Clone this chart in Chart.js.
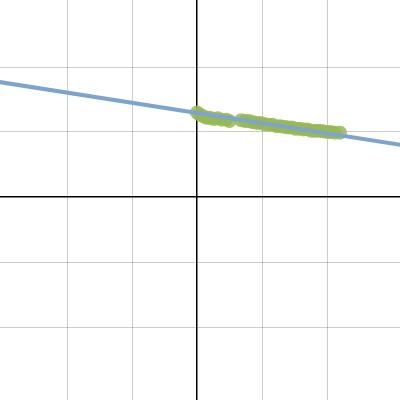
<!DOCTYPE html>
<html>
<head>
<script src="https://cdn.jsdelivr.net/npm/chart.js@4"></script>
<style>
  body { margin: 0; background: #fff; }
  #wrap { width: 400px; height: 400px; }
</style>
</head>
<body>
<div id="wrap"><canvas id="chart"></canvas></div>
<script>
// Sample points
const pointX = [0, 0.04, 0.1, 0.15, 0.2, 0.26, 0.32, 0.38, 0.45, 0.5,
                0.68, 0.74, 0.8, 0.86, 0.92, 0.98, 1.04, 1.1, 1.16, 1.22,
                1.28, 1.34, 1.4, 1.46, 1.52, 1.58, 1.64, 1.7, 1.76, 1.82,
                1.88, 1.94, 2.0, 2.06, 2.12, 2.2];
const pointY = [1.3, 1.27, 1.24, 1.22, 1.22, 1.2, 1.21, 1.19, 1.19, 1.17,
                1.18, 1.17, 1.17, 1.15, 1.14, 1.14, 1.12, 1.11, 1.11, 1.09,
                1.09, 1.08, 1.07, 1.07, 1.05, 1.05, 1.04, 1.04, 1.02, 1.02,
                1.02, 1.01, 1.0, 1.0, 0.99, 0.99];
// Regression line endpoints
const lineX = [-3.05, 3.15];
const lineY = [1.77, 0.80];

const xMin = -197 / 65, xMax = 203 / 65;
const yMin = -203 / 65, yMax = 197 / 65;

const gridColor = (ctx) => {
    const v = ctx.tick.value;
    if (v === 0) return '#000';
    return Number.isInteger(v) ? 'rgba(0,0,0,0.2)' : 'rgba(0,0,0,0)';
};
const gridWidth = (ctx) => ctx.tick.value === 0 ? 1.5 : 1;

new Chart(document.getElementById('chart'), {
    type: 'scatter',
    data: {
        datasets: [{
            type: 'line',
            data: lineX.map((x, i) => ({ x: x, y: lineY[i] })),
            borderColor: '#7fa3cf',
            borderWidth: 4,
            pointRadius: 0
        }, {
            data: pointX.map((x, i) => ({ x: x, y: pointY[i] })),
            backgroundColor: 'rgba(150,185,85,0.85)',
            borderWidth: 0,
            pointRadius: 7
        }]
    },
    options: {
        responsive: true,
        maintainAspectRatio: false,
        animation: false,
        layout: { padding: 0, autoPadding: false },
        plugins: { legend: { display: false }, tooltip: { enabled: false } },
        scales: {
            x: {
                type: 'linear', min: xMin, max: xMax,
                ticks: { display: false, stepSize: 1 },
                border: { display: false },
                grid: { color: gridColor, lineWidth: gridWidth, drawTicks: false }
            },
            y: {
                type: 'linear', min: yMin, max: yMax,
                ticks: { display: false, stepSize: 1 },
                border: { display: false },
                grid: { color: gridColor, lineWidth: gridWidth, drawTicks: false }
            }
        }
    }
});
</script>
</body>
</html>
